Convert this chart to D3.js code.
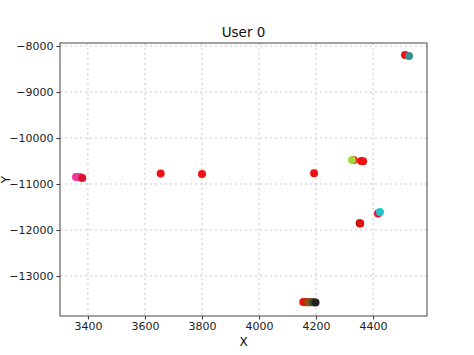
<!DOCTYPE html>
<html><head><meta charset="utf-8">
<script src="https://cdn.jsdelivr.net/npm/d3@7"></script>
<style>body{margin:0;background:#fff}svg{font-family:"DejaVu Sans",sans-serif}</style>
</head><body>
<script>
const xTicks=[3400,3600,3800,4000,4200,4400];
const yTicks=[-8000,-9000,-10000,-11000,-12000,-13000];
const px=[4155,4161,4167,4173,4179,4185,4191,4198,
 3358,3362,3366,3370,3374,3380,
 3655,3800,4193,
 4365,4358,4332,4326,
 4353,4355,
 4417,4424,
 4512,4526];
const py=[-13565,-13568,-13570,-13570,-13572,-13572,-13572,-13575,
 -10848,-10850,-10850,-10852,-10855,-10870,
 -10770,-10785,-10765,
 -10505,-10500,-10480,-10480,
 -11855,-11860,
 -11640,-11610,
 -8195,-8215];
const pc=["#ee1111","#dd1a08","#c02a05","#a84008","#8a5510","#6a5520","#444430","#222222",
 "#ee3a9e","#ee3a9e","#ee3a9e","#ea3aa0","#e83a9c","#e0102a",
 "#ee1111","#ee1111","#ee1111",
 "#ee1111","#ee1111","#e02020","#a8d33a",
 "#8b0000","#dd1111",
 "#ee1133","#22c4cc",
 "#ee1111","#3a9090"];

const W=474,H=355,m={l:60,r:47,t:43,b:39};
const svg=d3.select("body").append("svg").attr("width",W).attr("height",H);
const x=d3.scaleLinear().domain([3302,4589]).range([m.l,W-m.r]);
const y=d3.scaleLinear().domain([-13870,-7935]).range([H-m.b,m.t]);
const g=svg.append("g");
g.selectAll(".gx").data(xTicks).join("line").attr("x1",d=>x(d)).attr("x2",d=>x(d))
 .attr("y1",m.t).attr("y2",H-m.b).attr("stroke","#b8b8b8").attr("stroke-dasharray","2,3").attr("stroke-width",0.8);
g.selectAll(".gy").data(yTicks).join("line").attr("y1",d=>y(d)).attr("y2",d=>y(d))
 .attr("x1",m.l).attr("x2",W-m.r).attr("stroke","#b8b8b8").attr("stroke-dasharray","2,3").attr("stroke-width",0.8);
g.selectAll("circle").data(px).join("circle").attr("cx",(d)=>x(d)).attr("cy",(d,i)=>y(py[i]))
 .attr("r",4).attr("fill",(d,i)=>pc[i]);
const xa=svg.append("g").attr("transform",`translate(0,${H-m.b})`).call(d3.axisBottom(x).tickValues(xTicks).tickSize(3.5).tickPadding(3).tickFormat(d3.format("d")));
const ya=svg.append("g").attr("transform",`translate(${m.l},0)`).call(d3.axisLeft(y).tickValues(yTicks).tickSize(3.5).tickPadding(3).tickFormat(d=>"\u2212"+Math.abs(d)));
[xa,ya].forEach(a=>{a.selectAll("text").attr("font-size",11).attr("fill","#222").attr("font-family","DejaVu Sans");a.select(".domain").remove();a.selectAll("line").attr("stroke","#333")});
svg.append("rect").attr("x",m.l).attr("y",m.t).attr("width",W-m.l-m.r).attr("height",H-m.t-m.b)
 .attr("fill","none").attr("stroke","#444").attr("stroke-width",1);
svg.append("text").attr("x",(m.l+W-m.r)/2).attr("y",37).attr("text-anchor","middle").attr("font-size",13.5).attr("fill","#111").text("User 0");
svg.append("text").attr("x",(m.l+W-m.r)/2).attr("y",346).attr("text-anchor","middle").attr("font-size",12).attr("fill","#111").text("X");
svg.append("text").attr("transform",`translate(10,${(m.t+H-m.b)/2}) rotate(-90)`).attr("text-anchor","middle").attr("font-size",12).attr("fill","#111").text("Y");
</script>
</body></html>
